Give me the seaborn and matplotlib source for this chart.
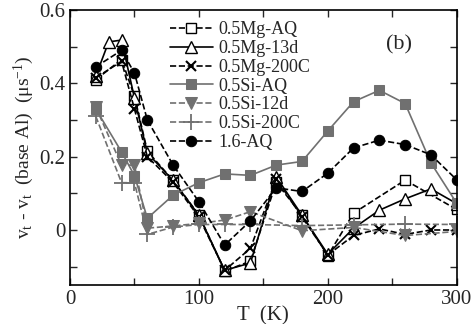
import matplotlib
matplotlib.use("Agg")
import matplotlib.pyplot as plt
import seaborn as sns
import numpy as np
from matplotlib.ticker import MultipleLocator

sns.set_theme(style="ticks")
plt.rcParams['font.family'] = ['Liberation Serif', 'DejaVu Serif']
plt.rcParams['mathtext.fontset'] = 'custom'
plt.rcParams['mathtext.rm'] = 'Liberation Serif'
plt.rcParams['mathtext.it'] = 'Liberation Serif:italic'

# ---- data ----
T_mg_aq = [20, 40, 50, 60, 80, 100, 120, 140, 160, 180, 200, 220, 260, 300]
v_mg_aq = [0.41, 0.465, 0.365, 0.215, 0.135, 0.041, -0.112, -0.085, 0.13, 0.04, -0.07, 0.046, 0.136, 0.056]

T_mg_13d = [20, 30, 40, 50, 60, 80, 100, 120, 140, 160, 180, 200, 220, 240, 260, 280, 300]
v_mg_13d = [0.42, 0.513, 0.518, 0.36, 0.21, 0.135, 0.04, -0.11, -0.09, 0.145, 0.04, -0.066, 0.005, 0.054, 0.085, 0.112, 0.072]

T_mg_200 = [20, 40, 50, 60, 80, 100, 120, 140, 160, 180, 200, 220, 240, 260, 280, 300]
v_mg_200 = [0.415, 0.46, 0.33, 0.20, 0.13, 0.035, -0.11, -0.05, 0.14, 0.035, -0.068, -0.015, 0.003, -0.012, 0.0, 0.0]

T_si_aq = [20, 40, 50, 60, 80, 100, 120, 140, 160, 180, 200, 220, 240, 260, 280, 300]
v_si_aq = [0.33, 0.213, 0.148, 0.032, 0.095, 0.129, 0.153, 0.149, 0.177, 0.187, 0.27, 0.35, 0.381, 0.345, 0.183, 0.073]

T_si_12d = [20, 40, 50, 60, 80, 100, 120, 140, 180, 220, 260, 300]
v_si_12d = [0.335, 0.177, 0.177, 0.005, 0.011, 0.018, 0.027, 0.05, -0.002, 0.007, -0.015, -0.004]

T_si_200 = [20, 40, 50, 60, 80, 100, 120, 140, 180, 220, 260, 300]
v_si_200 = [0.31, 0.129, 0.129, -0.012, 0.008, 0.015, 0.015, 0.015, 0.012, 0.014, 0.016, 0.015]

T_16_aq = [20, 40, 50, 60, 80, 100, 120, 140, 160, 180, 200, 220, 240, 260, 280, 300]
v_16_aq = [0.445, 0.49, 0.428, 0.30, 0.177, 0.077, -0.041, 0.025, 0.115, 0.105, 0.155, 0.224, 0.245, 0.233, 0.205, 0.137]

labels = ["0.5Mg-AQ", "0.5Mg-13d", "0.5Mg-200C", "0.5Si-AQ", "0.5Si-12d", "0.5Si-200C", "1.6-AQ"]

# ---- figure ----
fig = plt.figure(figsize=(4.74, 3.24), dpi=100)
ax = fig.add_axes([0.1477, 0.1204, 0.8158, 0.8487])

BLK = "black"
GRY = "#707070"
series = [
    (T_mg_aq, v_mg_aq, dict(color=BLK, linestyle="--", marker="s", markerfacecolor="white", markeredgecolor=BLK, markersize=7.5, markeredgewidth=1.0)),
    (T_mg_13d, v_mg_13d, dict(color=BLK, linestyle="-", marker="^", markerfacecolor="white", markeredgecolor=BLK, markersize=8.5, markeredgewidth=1.0)),
    (T_mg_200, v_mg_200, dict(color=BLK, linestyle="--", marker="x", markeredgecolor=BLK, markersize=7, markeredgewidth=1.5)),
    (T_si_aq, v_si_aq, dict(color=GRY, linestyle="-", marker="s", markerfacecolor=GRY, markeredgecolor=GRY, markersize=7.5)),
    (T_si_12d, v_si_12d, dict(color=GRY, linestyle="--", marker="v", markerfacecolor=GRY, markeredgecolor=GRY, markersize=9)),
    (T_si_200, v_si_200, dict(color=GRY, linestyle="--", marker="+", markeredgecolor=GRY, markersize=11, markeredgewidth=1.3)),
    (T_16_aq, v_16_aq, dict(color=BLK, linestyle="--", marker="o", markerfacecolor=BLK, markeredgecolor=BLK, markersize=7.5)),
]

for (tx, vy, kw), lab in zip(series, labels):
    sns.lineplot(x=tx, y=vy, ax=ax, label=lab, linewidth=1.2, sort=False, **kw)

ax.set_xlim(0, 300)
ax.set_ylim(-0.15, 0.6)
ax.xaxis.set_minor_locator(MultipleLocator(50))
ax.yaxis.set_minor_locator(MultipleLocator(0.1))
ax.set_yticks([0, 0.2, 0.4, 0.6])
ax.set_yticklabels(["0", "0.2", "0.4", "0.6"])
ax.set_xticks([0, 100, 200, 300])
ax.set_xticklabels(["0", "100", "200", "300"])
ax.tick_params(which="both", direction="in", top=True, right=True, labelsize=15, width=1.0, length=5)
for s in ax.spines.values():
    s.set_linewidth(1.2)
    s.set_color("black")

ax.set_xlabel("T  (K)", fontsize=15, labelpad=-2)
ax.set_ylabel(r"v$_\mathrm{t}$ - v$_\mathrm{t}$  (base Al)  (μs$^{-1}$)", fontsize=14, labelpad=2)

leg = ax.legend(loc="upper left", bbox_to_anchor=(0.225, 1.005), frameon=False, fontsize=13,
                handlelength=2.4, handletextpad=0.3, labelspacing=0.1, borderpad=0.2)
ax.text(0.851, 0.873, "(b)", transform=ax.transAxes, fontsize=16, ha="center", va="center")

fig.savefig("out.png", dpi=100)
